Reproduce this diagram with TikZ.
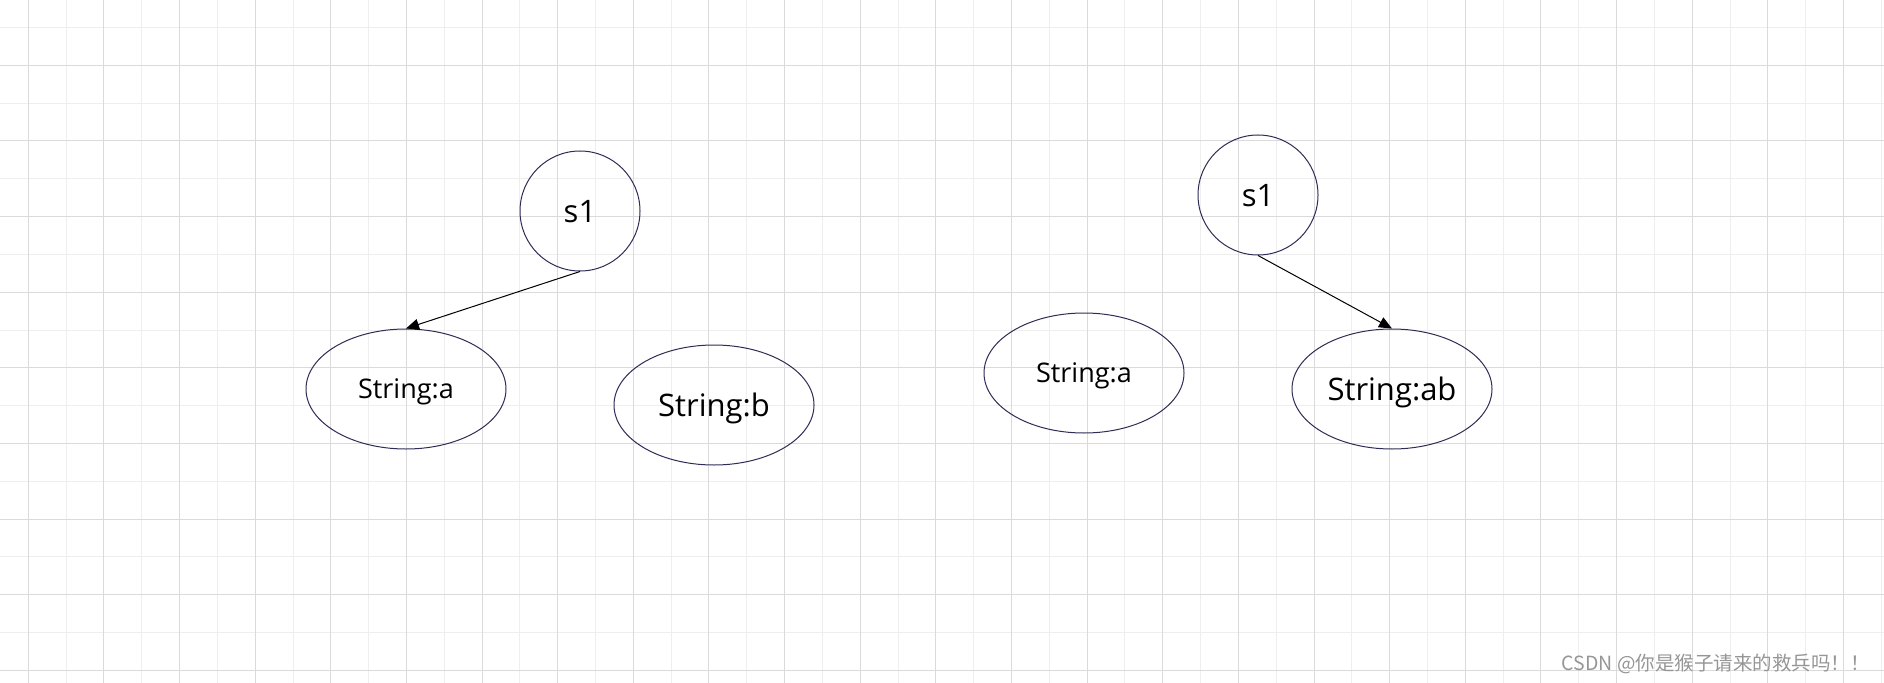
\documentclass[tikz,border=0pt]{standalone}
\usepackage{fontspec}
\setmainfont{Open Sans}
\newfontfamily\cjk{Noto Sans CJK SC}
\usetikzlibrary{arrows.meta,shapes.geometric}

\definecolor{gridminor}{RGB}{238,238,238}
\definecolor{gridmajor}{RGB}{218,218,220}
\definecolor{nodeline}{RGB}{45,45,85}
\definecolor{markgray}{RGB}{150,150,150}

\begin{document}
\begin{tikzpicture}[x=1bp, y=1bp,
  refcircle/.style={circle, draw=nodeline, line width=1bp, minimum size=120bp, inner sep=0pt, text depth=0pt, font=\fontsize{31bp}{36bp}\selectfont},
  strbig/.style={ellipse, draw=nodeline, line width=1bp, minimum width=200bp, minimum height=120bp, inner sep=0pt, text depth=0pt, font=\fontsize{31bp}{36bp}\selectfont},
  strsmall/.style={strbig, font=\fontsize{27bp}{32bp}\selectfont},
  link/.style={black, line width=1bp, -{Triangle[length=13bp, width=11bp]}}]
\useasboundingbox (0, 0) rectangle (1884, -683);
\fill[white] (0, 0) rectangle (1884, -683);

% background grid
\begin{scope}[shift={(28.3, -65.3)}]
\draw[gridminor, line width=1bp, step=37.815bp] (-28.3, -617.7) grid (1855.7, 65.3);
\draw[gridmajor, line width=1bp, step=75.63bp] (-28.3, -617.7) grid (1855.7, 65.3);
\end{scope}

% before
\node[refcircle] (s1L) at (580, -211) {s1};
\node[strsmall] (strA) at (406, -389) {String:a};
\node[strbig] (strB) at (714, -405) {String:b};
\draw[link] (s1L.south) -- (strA.north);

% after
\node[refcircle] (s1R) at (1258, -195) {s1};
\node[strsmall] (strA2) at (1084, -373) {String:a};
\node[strbig] (strAB) at (1392, -389) {String:ab};
\draw[link] (s1R.south) -- (strAB.north);

\node[anchor=east, inner sep=0pt, text=markgray, font=\cjk\fontsize{19.5bp}{22bp}\selectfont] (mark) at (1870, -663.5) {CSDN @你是猴子请来的救兵吗！！};
\end{tikzpicture}
\end{document}
